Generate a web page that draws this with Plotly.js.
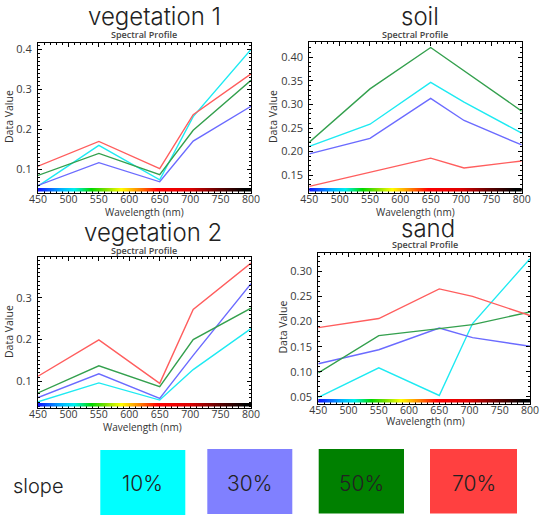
<!DOCTYPE html>
<html>
<head>
<meta charset="utf-8">
<script src="https://cdn.plot.ly/plotly-3.0.1.min.js"></script>
<style>html,body{margin:0;padding:0;background:#fff;}#chart{width:550px;height:522px;}</style>
</head>
<body>
<div id="chart"></div>
<script>
// ---- data ----
const wavelengths = [450, 550, 650, 705, 800];
const slopes = ['10%', '30%', '50%', '70%'];
const slopeColors = ['#00FFFF', '#8080FF', '#008000', '#FF4040'];
const lineColors = ['#1EEAF2', '#6B6BFF', '#34A04E', '#FF5E5E'];
const panelTitles = ['vegetation 1', 'soil', 'vegetation 2', 'sand'];
const xTicks = [450, 500, 550, 600, 650, 700, 750, 800];

const veg1_10 = [0.058, 0.160, 0.074, 0.232, 0.400];
const veg1_30 = [0.060, 0.117, 0.069, 0.171, 0.258];
const veg1_50 = [0.085, 0.140, 0.087, 0.198, 0.323];
const veg1_70 = [0.108, 0.170, 0.102, 0.237, 0.339];

const soil_10 = [0.211, 0.258, 0.347, 0.305, 0.239];
const soil_30 = [0.195, 0.228, 0.313, 0.266, 0.214];
const soil_50 = [0.220, 0.333, 0.421, 0.372, 0.286];
const soil_70 = [0.126, 0.156, 0.186, 0.165, 0.180];

const veg2_10 = [0.051, 0.096, 0.055, 0.128, 0.226];
const veg2_30 = [0.061, 0.118, 0.059, 0.162, 0.334];
const veg2_50 = [0.072, 0.137, 0.087, 0.200, 0.275];
const veg2_70 = [0.112, 0.199, 0.095, 0.272, 0.383];

const sand_10 = [0.049, 0.108, 0.053, 0.196, 0.325];
const sand_30 = [0.116, 0.144, 0.187, 0.168, 0.151];
const sand_50 = [0.098, 0.172, 0.186, 0.194, 0.219];
const sand_70 = [0.188, 0.206, 0.265, 0.250, 0.212];

const panelSeries = [
  [veg1_10, veg1_30, veg1_50, veg1_70],
  [soil_10, soil_30, soil_50, soil_70],
  [veg2_10, veg2_30, veg2_50, veg2_70],
  [sand_10, sand_30, sand_50, sand_70]
];

// ---- layout geometry (pixels) ----
const W = 550, H = 522;
const panels = [
  {l: 38, r: 251, t: 42.7, b: 193, yr: [0.041, 0.417], dt: 0.1, minor: 0.01, fmt: '.1f'},
  {l: 309.3, r: 521.7, t: 42.3, b: 193, yr: [0.112, 0.432], dt: 0.05, minor: 0.01, fmt: '.2f'},
  {l: 38, r: 251, t: 257.3, b: 408, yr: [0.036, 0.397], dt: 0.1, minor: 0.01, fmt: '.1f'},
  {l: 318.3, r: 530, t: 252.7, b: 404, yr: [0.036, 0.337], dt: 0.05, minor: 0.01, fmt: '.2f'}
];
const px = x => x / W;
const py = y => 1 - y / H;

// rainbow strip
function rainbow() {
  const c = document.createElement('canvas');
  c.width = 350; c.height = 4;
  const g = c.getContext('2d');
  const grad = g.createLinearGradient(0, 0, 350, 0);
  const stops = [[0, '#1010ff'], [0.11, '#00b4ff'], [0.17, '#00f0f0'], [0.25, '#00d800'],
    [0.32, '#80e000'], [0.39, '#ffff00'], [0.47, '#ff8c00'], [0.56, '#ff0000'],
    [0.71, '#e00000'], [0.85, '#600000'], [0.97, '#000000'], [1, '#000000']];
  stops.forEach(s => grad.addColorStop(s[0], s[1]));
  g.fillStyle = grad; g.fillRect(0, 0, 350, 4);
  return c.toDataURL();
}
const strip = rainbow();

const traces = [];
const layout = {
  width: W, height: H,
  margin: {l: 0, r: 0, t: 0, b: 0},
  paper_bgcolor: '#fff', plot_bgcolor: '#fff',
  showlegend: false,
  annotations: [], shapes: [], images: []
};

const tickFont = {family: 'Open Sans, sans-serif', size: 10.5, color: '#3a3a3a'};
const smallFont = {family: 'Open Sans, sans-serif', size: 9, color: '#444', weight: 600};
const bigFont = (s) => ({family: 'Inter, Lato, sans-serif', size: s, color: '#222', weight: 300});

panels.forEach((p, i) => {
  const n = i + 1;
  const xa = 'xaxis' + (n === 1 ? '' : n), ya = 'yaxis' + (n === 1 ? '' : n);
  const xr = 'x' + (n === 1 ? '' : n), yr = 'y' + (n === 1 ? '' : n);
  panelSeries[i].forEach((vals, k) => {
    traces.push({
      type: 'scatter', mode: 'lines', x: wavelengths, y: vals,
      xaxis: xr, yaxis: yr, name: slopes[k],
      line: {color: lineColors[k], width: 1.4}, hoverinfo: 'skip'
    });
  });
  layout[xa] = {
    domain: [px(p.l), px(p.r)], anchor: yr, range: [450, 800],
    tickvals: xTicks, ticks: 'inside', ticklen: 4, tickcolor: '#000',
    showline: true, linecolor: '#000', linewidth: 1, mirror: 'allticks',
    showgrid: false, zeroline: false, tickfont: tickFont, ticklabelstandoff: -4,
    minor: {dtick: 10, tick0: 450, ticks: 'inside', ticklen: 2, tickcolor: '#000', showgrid: false}
  };
  layout[ya] = {
    domain: [py(p.b), py(p.t)], anchor: xr, range: p.yr,
    dtick: p.dt, tick0: 0, tickformat: p.fmt, ticks: 'inside', ticklen: 4, tickcolor: '#000',
    showline: true, linecolor: '#000', linewidth: 1, mirror: 'allticks',
    showgrid: false, zeroline: false, tickfont: {family: 'Open Sans, sans-serif', size: 11, color: '#3a3a3a'},
    ticklabelstandoff: 3,
    minor: {dtick: p.minor, tick0: 0, ticks: 'inside', ticklen: 2, tickcolor: '#000', showgrid: false}
  };
  layout.images.push({
    source: strip, xref: 'paper', yref: 'paper',
    x: px(p.l), y: py(p.b - 1.5), sizex: px(p.r - p.l), sizey: 3.5 / H,
    xanchor: 'left', yanchor: 'bottom', sizing: 'stretch', layer: 'above'
  });
});

// panel titles / subtitles / axis titles
const titlePos = [[154, 16.5], [420, 16.5], [153, 232], [428, 229]];
const subPos = [[144, 34.5], [415, 34.5], [144, 250], [425, 245]];
const wlPos = [[144, 212], [415, 212], [142, 427], [425, 420.5]];
const dvPos = [[9, 117], [273, 117], [9, 332], [282.5, 327]];
const ann = layout.annotations;
panelTitles.forEach((t, i) => {
  ann.push({text: t, xref: 'paper', yref: 'paper', x: px(titlePos[i][0]), y: py(titlePos[i][1]),
    xanchor: 'center', yanchor: 'middle', showarrow: false, font: bigFont(24)});
  ann.push({text: 'Spectral Profile', xref: 'paper', yref: 'paper', x: px(subPos[i][0]), y: py(subPos[i][1]),
    xanchor: 'center', yanchor: 'middle', showarrow: false, font: smallFont});
  ann.push({text: 'Wavelength (nm)', xref: 'paper', yref: 'paper', x: px(wlPos[i][0]), y: py(wlPos[i][1]),
    xanchor: 'center', yanchor: 'middle', showarrow: false,
    font: {family: 'Open Sans, sans-serif', size: 10, color: '#333'}});
  ann.push({text: 'Data Value', xref: 'paper', yref: 'paper', x: px(dvPos[i][0]), y: py(dvPos[i][1]),
    xanchor: 'center', yanchor: 'middle', showarrow: false, textangle: -90,
    font: {family: 'Open Sans, sans-serif', size: 10.5, color: '#333'}});
});

// legend row
ann.push({text: 'slope', xref: 'paper', yref: 'paper', x: px(38), y: py(486),
  xanchor: 'center', yanchor: 'middle', showarrow: false, font: bigFont(20)});
const boxes = [[100.3, 185.3, 450, 515], [207.3, 292.3, 449, 514], [318.7, 404, 449, 513.5], [430, 517, 449, 513.5]];
slopes.forEach((s, k) => {
  const b = boxes[k];
  layout.shapes.push({type: 'rect', xref: 'paper', yref: 'paper',
    x0: px(b[0]), x1: px(b[1]), y0: py(b[3]), y1: py(b[2]),
    fillcolor: slopeColors[k], line: {width: 0}});
  ann.push({text: s, xref: 'paper', yref: 'paper', x: px((b[0] + b[1]) / 2), y: py(483),
    xanchor: 'center', yanchor: 'middle', showarrow: false, font: bigFont(21)});
});

Plotly.newPlot('chart', traces, layout, {staticPlot: true, displayModeBar: false});
</script>
</body>
</html>
